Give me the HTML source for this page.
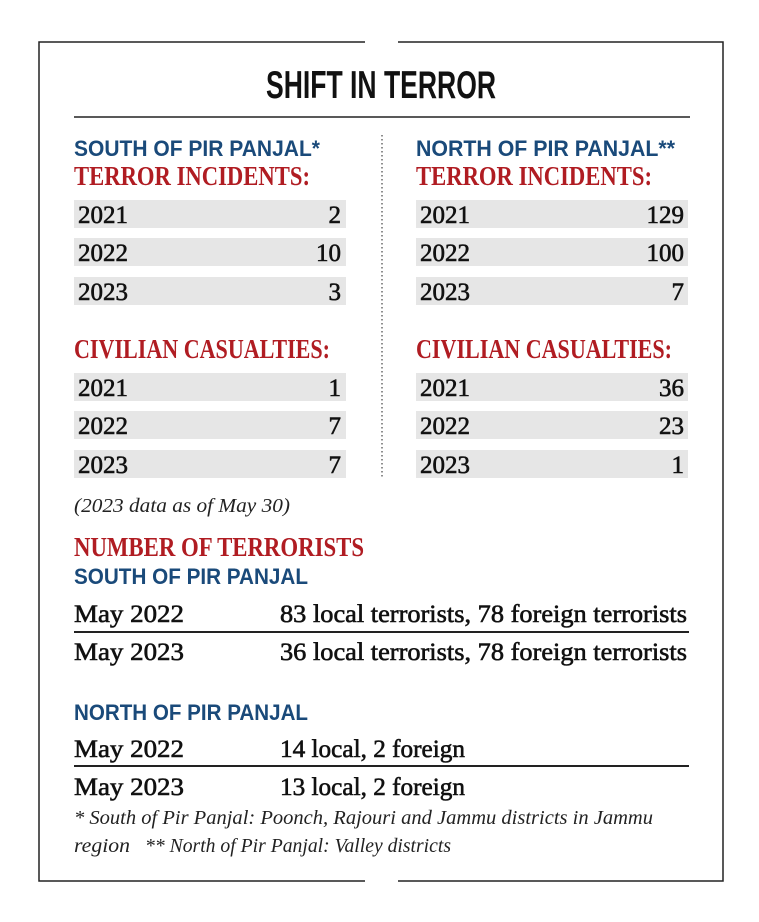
<!DOCTYPE html>
<html><head><meta charset="utf-8"><style>html,body{margin:0;padding:0;background:#fff}svg{display:block}</style></head>
<body>
<svg width="759" height="922" viewBox="0 0 759 922" xmlns="http://www.w3.org/2000/svg">
<rect width="759" height="922" fill="#fff"/>
<g stroke="#222" stroke-width="1.5" fill="none">
<path d="M365 42 H39 V881 H365"/>
<path d="M398 42 H723 V881 H398"/>
</g>
<line x1="74" y1="117" x2="690" y2="117" stroke="#222" stroke-width="1.5"/>
<line x1="382" y1="135" x2="382" y2="478" stroke="#444" stroke-width="1.2" stroke-dasharray="1.5,2.5"/>
<g fill="#e6e6e6">
<rect x="74" y="200" width="272" height="28"/><rect x="74" y="238" width="272" height="28"/><rect x="74" y="277" width="272" height="28"/>
<rect x="416" y="200" width="272" height="28"/><rect x="416" y="238" width="272" height="28"/><rect x="416" y="277" width="272" height="28"/>
<rect x="74" y="373" width="272" height="28"/><rect x="74" y="411" width="272" height="28"/><rect x="74" y="450" width="272" height="28"/>
<rect x="416" y="373" width="272" height="28"/><rect x="416" y="411" width="272" height="28"/><rect x="416" y="450" width="272" height="28"/>
</g>
<text x="266" y="98" font-family="Liberation Sans" font-weight="bold" font-size="39" fill="#111" textLength="230" lengthAdjust="spacingAndGlyphs">SHIFT IN TERROR</text>
<g font-family="Liberation Sans" font-weight="bold" font-size="22" fill="#1a4a7a">
<text x="74" y="156" textLength="246" lengthAdjust="spacingAndGlyphs">SOUTH OF PIR PANJAL*</text>
<text x="416" y="156" textLength="259" lengthAdjust="spacingAndGlyphs">NORTH OF PIR PANJAL**</text>
<text x="74" y="584" textLength="234" lengthAdjust="spacingAndGlyphs">SOUTH OF PIR PANJAL</text>
<text x="74" y="720" textLength="234" lengthAdjust="spacingAndGlyphs">NORTH OF PIR PANJAL</text>
</g>
<g font-family="Liberation Serif" font-weight="bold" font-size="27" fill="#b01c22">
<text x="74" y="185" textLength="236" lengthAdjust="spacingAndGlyphs">TERROR INCIDENTS:</text>
<text x="416" y="185" textLength="236" lengthAdjust="spacingAndGlyphs">TERROR INCIDENTS:</text>
<text x="74" y="358" textLength="256" lengthAdjust="spacingAndGlyphs">CIVILIAN CASUALTIES:</text>
<text x="416" y="358" textLength="256" lengthAdjust="spacingAndGlyphs">CIVILIAN CASUALTIES:</text>
<text x="74" y="556" textLength="290" lengthAdjust="spacingAndGlyphs">NUMBER OF TERRORISTS</text>
</g>
<g font-family="Liberation Serif" font-size="25" fill="#111" stroke="#111" stroke-width="0.6">
<text x="78" y="223">2021</text><text x="78" y="261">2022</text><text x="78" y="300">2023</text>
<text x="420" y="223">2021</text><text x="420" y="261">2022</text><text x="420" y="300">2023</text>
<text x="78" y="396">2021</text><text x="78" y="434">2022</text><text x="78" y="473">2023</text>
<text x="420" y="396">2021</text><text x="420" y="434">2022</text><text x="420" y="473">2023</text>
<g text-anchor="end">
<text x="341" y="223">2</text><text x="341" y="261">10</text><text x="341" y="300">3</text>
<text x="684" y="223">129</text><text x="684" y="261">100</text><text x="684" y="300">7</text>
<text x="341" y="396">1</text><text x="341" y="434">7</text><text x="341" y="473">7</text>
<text x="684" y="396">36</text><text x="684" y="434">23</text><text x="684" y="473">1</text>
</g>
<text x="74" y="622" textLength="110" lengthAdjust="spacingAndGlyphs">May 2022</text>
<text x="280" y="622" textLength="407" lengthAdjust="spacingAndGlyphs">83 local terrorists, 78 foreign terrorists</text>
<text x="74" y="660" textLength="110" lengthAdjust="spacingAndGlyphs">May 2023</text>
<text x="280" y="660" textLength="407" lengthAdjust="spacingAndGlyphs">36 local terrorists, 78 foreign terrorists</text>
<text x="74" y="757" textLength="110" lengthAdjust="spacingAndGlyphs">May 2022</text>
<text x="280" y="757" textLength="185" lengthAdjust="spacingAndGlyphs">14 local, 2 foreign</text>
<text x="74" y="795" textLength="110" lengthAdjust="spacingAndGlyphs">May 2023</text>
<text x="280" y="795" textLength="185" lengthAdjust="spacingAndGlyphs">13 local, 2 foreign</text>
</g>
<line x1="74" y1="632" x2="689" y2="632" stroke="#222" stroke-width="2"/>
<line x1="74" y1="766" x2="689" y2="766" stroke="#222" stroke-width="2"/>
<g font-family="Liberation Serif" font-style="italic" font-size="20" fill="#222">
<text x="74" y="512" textLength="216" lengthAdjust="spacingAndGlyphs">(2023 data as of May 30)</text>
<text x="74" y="824" textLength="579" lengthAdjust="spacingAndGlyphs">* South of Pir Panjal: Poonch, Rajouri and Jammu districts in Jammu</text>
<text x="74" y="852" textLength="56" lengthAdjust="spacingAndGlyphs">region</text>
<text x="145" y="852" textLength="306" lengthAdjust="spacingAndGlyphs">** North of Pir Panjal: Valley districts</text>
</g>
</svg>
</body></html>
